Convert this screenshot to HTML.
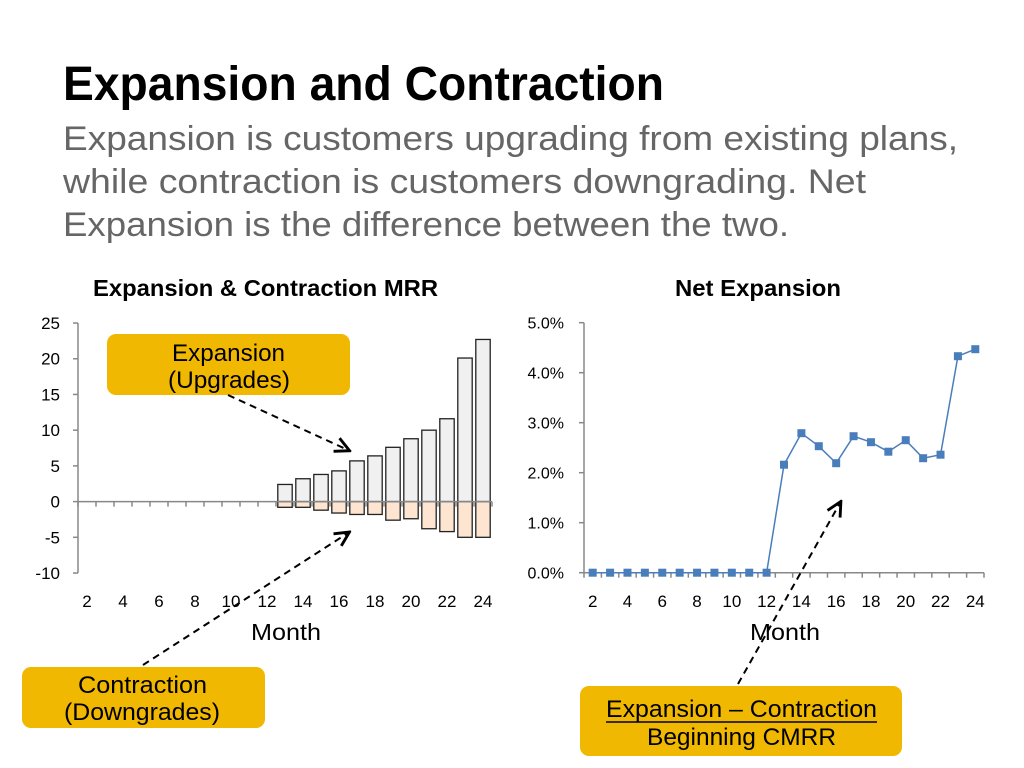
<!DOCTYPE html>
<html><head><meta charset="utf-8"><style>
html,body{margin:0;padding:0;background:#fff;}
svg{display:block;font-family:"Liberation Sans Narrow","Liberation Sans",sans-serif;}
</style></head><body>
<svg id="s" width="1024" height="768" viewBox="0 0 1024 768" xmlns="http://www.w3.org/2000/svg">
<defs><marker id="ah" viewBox="0 0 10 10" refX="8" refY="5" markerWidth="9" markerHeight="9" orient="auto"><path d="M1,1 L9,5 L1,9" fill="none" stroke="#000" stroke-width="1.6"/></marker></defs>
<text x="63" y="100" font-size="48" font-weight="bold" textLength="601" lengthAdjust="spacingAndGlyphs">Expansion and Contraction</text>
<g fill="#666" font-size="34">
<text x="63" y="150" textLength="895" lengthAdjust="spacingAndGlyphs">Expansion is customers upgrading from existing plans,</text>
<text x="63" y="193" textLength="803" lengthAdjust="spacingAndGlyphs">while contraction is customers downgrading. Net</text>
<text x="63" y="236" textLength="726" lengthAdjust="spacingAndGlyphs">Expansion is the difference between the two.</text>
</g>
<text x="93" y="296" font-size="23" font-weight="bold" textLength="345" lengthAdjust="spacingAndGlyphs">Expansion &amp; Contraction MRR</text>
<text x="675" y="296" font-size="23" font-weight="bold" textLength="166" lengthAdjust="spacingAndGlyphs">Net Expansion</text>
<g id="left"></g>
<g id="right"></g>
<text x="251" y="640" font-size="23" textLength="70" lengthAdjust="spacingAndGlyphs">Month</text>
<text x="750" y="640" font-size="23" textLength="70" lengthAdjust="spacingAndGlyphs">Month</text>
<g>
<rect x="107" y="334" width="243" height="61" rx="9" fill="#f0b800"/>
<text x="172" y="361" font-size="24" textLength="113" lengthAdjust="spacingAndGlyphs">Expansion</text>
<text x="168" y="388" font-size="24" textLength="122" lengthAdjust="spacingAndGlyphs">(Upgrades)</text>
</g>
<line x1="228" y1="395" x2="348" y2="450" stroke="#000" stroke-width="2" stroke-dasharray="7,5" marker-end="url(#ah)"/>
<g>
<rect x="22" y="667" width="243" height="61" rx="9" fill="#f0b800"/>
<text x="78" y="693" font-size="24" textLength="129" lengthAdjust="spacingAndGlyphs">Contraction</text>
<text x="64" y="720" font-size="24" textLength="156" lengthAdjust="spacingAndGlyphs">(Downgrades)</text>
</g>
<line x1="143" y1="665" x2="348" y2="533" stroke="#000" stroke-width="2" stroke-dasharray="7,5" marker-end="url(#ah)"/>
<g>
<rect x="580" y="686" width="322" height="70" rx="9" fill="#f0b800"/>
<text x="606" y="717" font-size="24" textLength="271" lengthAdjust="spacingAndGlyphs">Expansion – Contraction</text>
<line x1="606" y1="722" x2="877" y2="722" stroke="#000" stroke-width="1.5"/>
<text x="647" y="745" font-size="24" textLength="189" lengthAdjust="spacingAndGlyphs">Beginning CMRR</text>
</g>
<line x1="738" y1="684" x2="840" y2="503" stroke="#000" stroke-width="2" stroke-dasharray="7,5" marker-end="url(#ah)"/>
</svg>
<script>
const months=[2,3,4,5,6,7,8,9,10,11,12,13,14,15,16,17,18,19,20,21,22,23,24];
const expansion=[0,0,0,0,0,0,0,0,0,0,0,2.4,3.2,3.8,4.3,5.7,6.4,7.6,8.8,10.0,11.6,20.1,22.7];
const contraction=[0,0,0,0,0,0,0,0,0,0,0,-0.8,-0.8,-1.2,-1.6,-1.8,-1.8,-2.6,-2.4,-3.8,-4.2,-5.0,-5.0];
const leftTicks=[25,20,15,10,5,0,-5,-10];
const netExpansion=[0,0,0,0,0,0,0,0,0,0,0,2.16,2.79,2.53,2.19,2.73,2.61,2.42,2.65,2.29,2.36,4.33,4.47];
const rightTicks=[0,1,2,3,4,5];
const xLabels=[2,4,6,8,10,12,14,16,18,20,22,24];
const NS="http://www.w3.org/2000/svg";
function mk(p,t,a,txt){const e=document.createElementNS(NS,t);for(const k in a)e.setAttribute(k,a[k]);if(txt!==undefined)e.textContent=txt;p.appendChild(e);return e;}
const L=document.getElementById('left');
const lx0=78,lx1=492,ly=v=>501.6-v*(250/35);
const lstep=(lx1-lx0)/months.length;const lxc=i=>lx0+lstep*(i+0.5);
let e=mk(L,'line',{x1:lx0,y1:ly(25),x2:lx0,y2:ly(-10),stroke:'#888','stroke-width':1.5});


leftTicks.forEach(t=>{mk(L,'line',{x1:lx0-5,y1:ly(t),x2:lx0,y2:ly(t),stroke:'#888','stroke-width':1.5});
 const tx=mk(L,'text',{x:60,y:ly(t)+6,'font-size':17,'text-anchor':'end'},String(t));
 
 });
months.forEach((m,i)=>{const w=lstep*0.8;
 if(expansion[i]>0){const b=mk(L,'rect',{x:lxc(i)-w/2,y:ly(expansion[i]),width:w,height:ly(0)-ly(expansion[i]),fill:'#f0f0f0',stroke:'#222','stroke-width':1.3});
 
 }
 if(contraction[i]<0){const b=mk(L,'rect',{x:lxc(i)-w/2,y:ly(0),width:w,height:ly(contraction[i])-ly(0),fill:'#fde5d2',stroke:'#222','stroke-width':1.3});
 
 }});
e=mk(L,'line',{x1:lx0,y1:ly(0),x2:lx1,y2:ly(0),stroke:'#888','stroke-width':1.5});


for(let i=0;i<=months.length;i++)mk(L,'line',{x1:lx0+lstep*i,y1:ly(0),x2:lx0+lstep*i,y2:ly(0)+5,stroke:'#888','stroke-width':1.5});
xLabels.forEach(m=>{const i=months.indexOf(m);const t=mk(L,'text',{x:lxc(i),y:607,'font-size':17,'text-anchor':'middle'},String(m));
 
 });
const R=document.getElementById('right');
const rx0=584,rx1=984,ry=v=>572.7-v*50;
const rstep=(rx1-rx0)/months.length;const rxc=i=>rx0+rstep*(i+0.5);
e=mk(R,'line',{x1:rx0,y1:ry(5),x2:rx0,y2:ry(0),stroke:'#888','stroke-width':1.5});


rightTicks.forEach(t=>{mk(R,'line',{x1:rx0-5,y1:ry(t),x2:rx0,y2:ry(t),stroke:'#888','stroke-width':1.5});
 const tx=mk(R,'text',{x:564,y:ry(t)+6,'font-size':16,'text-anchor':'end'},t.toFixed(1)+'%');
 
 });
e=mk(R,'line',{x1:rx0,y1:ry(0),x2:rx1,y2:ry(0),stroke:'#888','stroke-width':1.5});


for(let i=0;i<=months.length;i++)mk(R,'line',{x1:rx0+rstep*i,y1:ry(0),x2:rx0+rstep*i,y2:ry(0)+5,stroke:'#888','stroke-width':1.5});
xLabels.forEach(m=>{const i=months.indexOf(m);const t=mk(R,'text',{x:rxc(i),y:607,'font-size':17,'text-anchor':'middle'},String(m));
 
 });
const pts=netExpansion.map((v,i)=>rxc(i)+','+ry(v)).join(' ');
e=mk(R,'polyline',{points:pts,fill:'none',stroke:'#4a7ebb','stroke-width':1.5});


netExpansion.forEach((v,i)=>{const p=mk(R,'rect',{x:rxc(i)-4,y:ry(v)-4,width:8,height:8,fill:'#4a7ebb'});
 
 });
</script>
</body></html>
